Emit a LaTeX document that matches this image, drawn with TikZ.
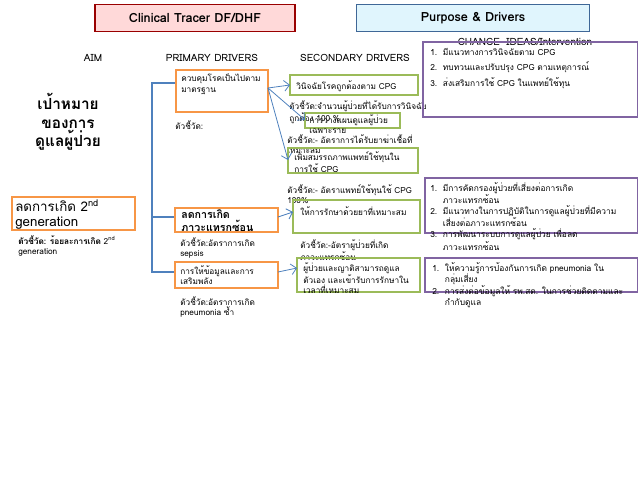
\documentclass[tikz,border=0pt]{standalone}
\usepackage{fontspec}
\IfFontExistsTF{Loma.otf}{\setmainfont{Loma.otf}[BoldFont=Loma-Bold.otf]}{%
\IfFontExistsTF{Waree.otf}{\setmainfont{Waree.otf}[BoldFont=Waree-Bold.otf]}{%
\IfFontExistsTF{Garuda.otf}{\setmainfont{Garuda.otf}[BoldFont=Garuda-Bold.otf]}{%
\setmainfont{Noto Sans}}}}
\usetikzlibrary{arrows.meta}
\definecolor{org}{HTML}{F79646}
\definecolor{grn}{HTML}{9BBB59}
\definecolor{pur}{HTML}{8064A2}
\definecolor{blu}{HTML}{4F81BD}
\begin{document}
\begin{tikzpicture}[x=0.75pt,y=-0.75pt,
 ob/.style={draw=org,line width=1.2pt},
 gb/.style={draw=grn,line width=1.2pt},
 pb/.style={draw=pur,line width=1.2pt},
 txt/.style={anchor=north west,inner sep=0pt,align=left,font=\fontsize{6.2}{7.6}\selectfont},
 hd/.style={font=\fontsize{7.5}{9}\selectfont},
 arr/.style={draw=blu,-{Straight Barb[length=4pt]},line width=0.6pt}]
\useasboundingbox (0,0) rectangle (638,478);
\node[draw=red!60!black,fill=red!15,line width=0.8pt,minimum width=200*0.75pt,minimum height=27*0.75pt,font=\bfseries\fontsize{9.5}{11}\selectfont] (t1) at (195,18) {Clinical Tracer DF/DHF};
\node[draw=blu!80!black,fill=cyan!12,line width=0.8pt,minimum width=233*0.75pt,minimum height=27*0.75pt,font=\bfseries\fontsize{9.5}{11}\selectfont] (t2) at (473,18) {Purpose \& Drivers};
\node[hd] (h1) at (93,58) {AIM};
\node[hd] (h2) at (212,58) {PRIMARY DRIVERS};
\node[hd] (h3) at (355,58) {SECONDARY DRIVERS};
\node[hd] (h4) at (525,42) {CHANGE\ \ IDEAS/Intervention};
\node[font=\bfseries\fontsize{11.5}{14}\selectfont,align=center] (goal) at (68,122) {เป้าหมาย\\ของการ\\ดูแลผู้ป่วย};
% aim
\draw[ob] (12,197) rectangle (135,230);
\node[txt,font=\fontsize{10}{11}\selectfont] (aim) at (15,200) {ลดการเกิด 2\textsuperscript{nd}\\generation};
\node[txt] (aimk) at (18,235) {\textbf{ตัวชี้วัด: ร้อยละการเกิด} 2\textsuperscript{nd}\\generation};
% bracket
\draw[blu,line width=1.5pt] (176,83) -- (152,83) -- (152,272) -- (176,272);
\draw[blu,line width=1.5pt] (152,217) -- (176,217);
% primary
\draw[ob] (176,70) rectangle (268,112); \coordinate (p1) at (268,88);
\node[txt] at (181,74) {ควบคุมโรคเป็นไปตาม\\มาตรฐาน};
\node[txt] at (175,120) {ตัวชี้วัด:};
\draw[ob] (175,208) rectangle (278,232); \coordinate (p2) at (278,217);
\node[txt,font=\bfseries\fontsize{8}{10}\selectfont] at (181,209) {ลดการเกิด\\ภาวะแทรกซ้อน};
\node[txt] at (180,237) {ตัวชี้วัด:อัตราการเกิด\\sepsis};
\draw[ob] (175,262) rectangle (278,288); \coordinate (p3) at (278,272);
\node[txt] at (180,265) {การให้ข้อมูลและการ\\เสริมพลัง};
\node[txt] at (180,296) {ตัวชี้วัด:อัตราการเกิด\\pneumonia ซ้ำ};
% secondary
\draw[gb] (290,75) rectangle (418,95); \coordinate (s1) at (290,85);
\node[txt] at (296,80) {วินิจฉัยโรคถูกต้องตาม CPG};
\node[txt] at (289,100) {ตัวชี้วัด:จำนวนผู้ป่วยที่ได้รับการวินิจฉัย\\ถูกต้อง 100 \%};
\draw[gb] (305,113) rectangle (400,128); \coordinate (s2) at (305,120);
\node[txt] at (309,114) {การวางแผนดูแลผู้ป่วย\\เฉพาะราย};
\node[txt] at (287,134) {ตัวชี้วัด:- อัตราการได้รับยาฆ่าเชื้อที่\\เหมาะสม};
\draw[gb] (288,148) rectangle (418,173); \coordinate (s3) at (288,160);
\node[txt] at (294,151) {เพิ่มสมรรถภาพแพทย์ใช้ทุนใน\\การใช้ CPG};
\node[txt] at (287,184) {ตัวชี้วัด:- อัตราแพทย์ใช้ทุนใช้ CPG\\100\%};
\draw[gb] (293,200) rectangle (420,233); \coordinate (s4) at (293,212);
\node[txt] at (300,206) {ให้การรักษาด้วยยาที่เหมาะสม};
\node[txt] at (300,239) {ตัวชี้วัด:-อัตราผู้ป่วยที่เกิด\\ภาวะแทรกซ้อน};
\draw[gb] (297,258) rectangle (420,292); \coordinate (s5) at (297,268);
\node[txt] at (303,262) {ผู้ป่วยและญาติสามารถดูแล\\ตัวเอง และเข้ารับการรักษาใน\\เวลาที่เหมาะสม};
\draw[arr] (p1) -- (s1);
\draw[arr] (p1) -- (s2);
\draw[arr] (p1) -- (s3);
\draw[arr] (p2) -- (s4);
\draw[arr] (p3) -- (s5);
% change ideas
\draw[pb] (423,42) rectangle (638,117);
\node[txt,font=\fontsize{6.3}{11.5}\selectfont] at (430,48) {1.\ \ มีแนวทางการวินิจฉัยตาม CPG\\2.\ \ ทบทวนและปรับปรุง CPG ตามเหตุการณ์\\3.\ \ ส่งเสริมการใช้ CPG ในแพทย์ใช้ทุน};
\draw[pb] (425,178) rectangle (638,233);
\node[txt,font=\fontsize{6.3}{8.2}\selectfont] at (430,182) {1.\ \ มีการคัดกรองผู้ป่วยที่เสี่ยงต่อการเกิด\\\phantom{1.\ \ }ภาวะแทรกซ้อน\\2.\ \ มีแนวทางในการปฏิบัติในการดูแลผู้ป่วยที่มีความ\\\phantom{1.\ \ }เสี่ยงต่อภาวะแทรกซ้อน\\3.\ \ การพัฒนาระบบการดูแลผู้ป่วย เพื่อลด\\\phantom{1.\ \ }ภาวะแทรกซ้อน};
\draw[pb] (425,258) rectangle (638,292);
\node[txt,font=\fontsize{6.3}{8.2}\selectfont] at (432,262) {1.\ \ ให้ความรู้การป้องกันการเกิด pneumonia ใน\\\phantom{1.\ \ }กลุ่มเสี่ยง\\2.\ \ การส่งต่อข้อมูลให้ รพ.สต. ในการช่วยติดตามและ\\\phantom{1.\ \ }กำกับดูแล};
\end{tikzpicture}
\end{document}
